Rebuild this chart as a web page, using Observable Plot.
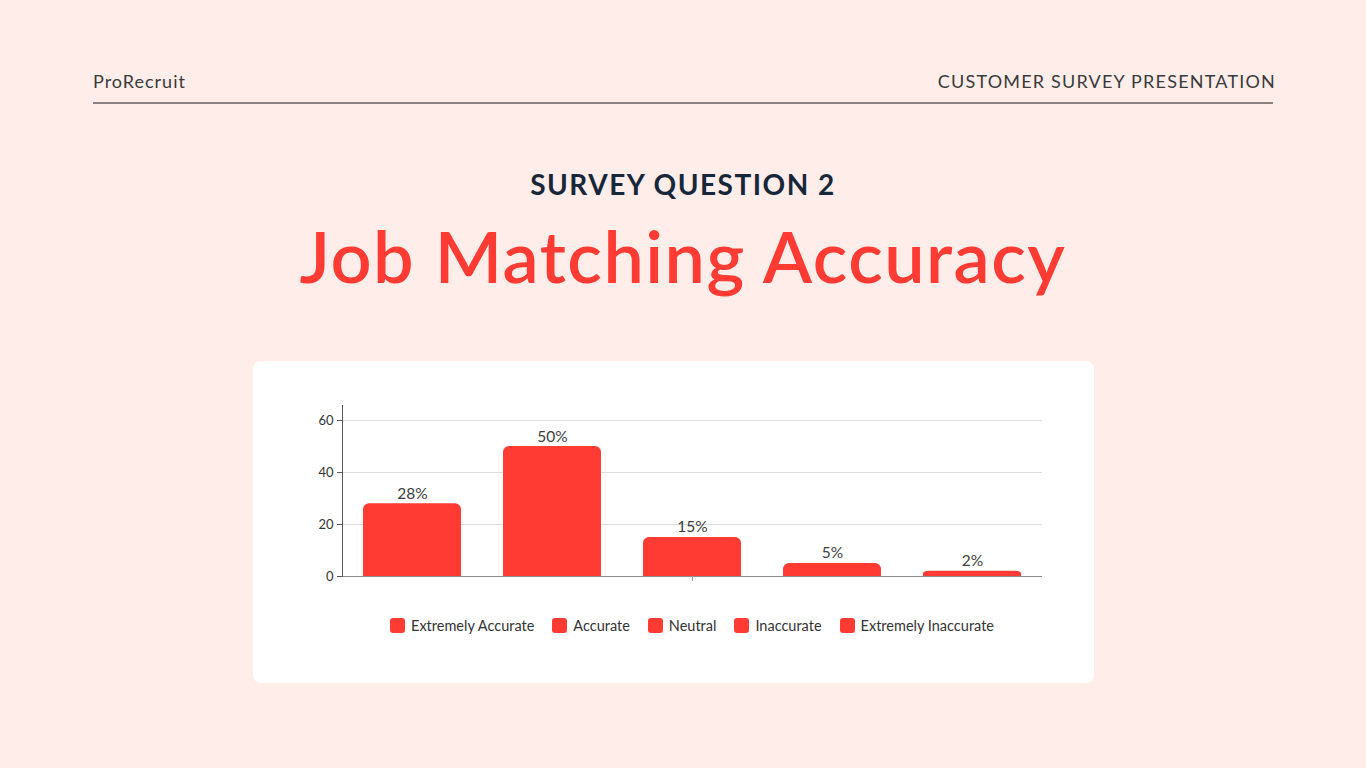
<!DOCTYPE html>
<html>
<head>
<meta charset="utf-8">
<script src="https://cdn.jsdelivr.net/npm/d3@7"></script>
<script src="https://cdn.jsdelivr.net/npm/@observablehq/plot@0.6"></script>
<style>
  html, body { margin: 0; padding: 0; }
  body { width: 1366px; height: 768px; background: #FFEDE9; position: relative; overflow: hidden; font-family: "Lato", "Open Sans", sans-serif; }
  .brand { position: absolute; left: 93px; top: 70px; font-size: 18px; color: #3a3a3a; letter-spacing: 1px; }
  .deck { position: absolute; right: 90px; top: 70px; font-size: 18px; color: #3a3a3a; letter-spacing: 1.2px; }
  .rule { position: absolute; left: 93px; top: 102px; width: 1180px; height: 2px; background: #8a8080; }
  .kicker { position: absolute; left: 0; width: 1366px; top: 167px; text-align: center; font-size: 28px; font-weight: 700; color: #17273a; letter-spacing: 1.5px; }
  .title { position: absolute; left: 0; width: 1366px; top: 212px; text-align: center; font-size: 72px; font-weight: 600; color: #FF3B33; letter-spacing: 1.5px; }
  .card { position: absolute; left: 253px; top: 361px; width: 841px; height: 322px; background: #ffffff; border-radius: 8px; }
  #chart { position: absolute; left: 0; top: 0; }
  .legend { position: absolute; left: 89px; width: 700px; top: 256px; display: flex; justify-content: center; gap: 18px; font-size: 14.5px; color: #333; font-family: "Lato", sans-serif; }
  .legend span { display: flex; align-items: center; }
  .legend i { display: inline-block; width: 15px; height: 15px; border-radius: 3px; background: #FF3B33; margin-right: 6px; }
</style>
</head>
<body>
<div class="brand">ProRecruit</div>
<div class="deck">CUSTOMER SURVEY PRESENTATION</div>
<div class="rule"></div>
<div class="kicker">SURVEY QUESTION 2</div>
<div class="title">Job Matching Accuracy</div>
<div class="card">
  <div id="chart"></div>
  <div class="legend" id="legend"></div>
</div>
<script>
const categories = ["Extremely Accurate", "Accurate", "Neutral", "Inaccurate", "Extremely Inaccurate"];
const values = [28, 50, 15, 5, 2];
const yTicks = [0, 20, 40, 60];
const barColor = "#FF3B33";

const data = categories.map((c, i) => ({category: c, value: values[i]}));

const chart = Plot.plot({
  width: 841,
  height: 235,
  marginLeft: 89,
  marginRight: 52,
  marginTop: 44,
  marginBottom: 20,
  style: {fontFamily: "Lato, sans-serif", fontSize: "13px", color: "#333", background: "transparent"},
  x: {domain: categories, paddingInner: 0.3, paddingOuter: 0.15, axis: null, label: null},
  y: {domain: [0, 65.8], ticks: yTicks, axis: null, label: null},
  marks: [
    Plot.gridY(yTicks, {stroke: "#dcdcdc", strokeOpacity: 1}),
    Plot.barY(data, {x: "category", y: "value", fill: barColor, rx: 6}),
    Plot.barY(data, {x: "category", y1: 0, y2: d => d.value / 2, fill: barColor}),
    Plot.text(data, {x: "category", y: "value", text: d => d.value + "%", dy: -10, fill: "#3d3d3d", fontSize: 15.5}),
    Plot.ruleY([0], {stroke: "#8c8c8c", strokeWidth: 1.2}),
    Plot.frame({anchor: "left", stroke: "#555"}),
    Plot.axisY({ticks: yTicks, tickSize: 5, tickPadding: 4, fontSize: 13, stroke: "#555", label: null}),
    Plot.axisX({ticks: [categories[2]], tickFormat: () => "", tickSize: 5, stroke: "#999", label: null})
  ]
});
document.getElementById("chart").appendChild(chart);

const legend = document.getElementById("legend");
categories.forEach(c => {
  const s = document.createElement("span");
  s.innerHTML = `<i></i>${c}`;
  legend.appendChild(s);
});
</script>
</body>
</html>
